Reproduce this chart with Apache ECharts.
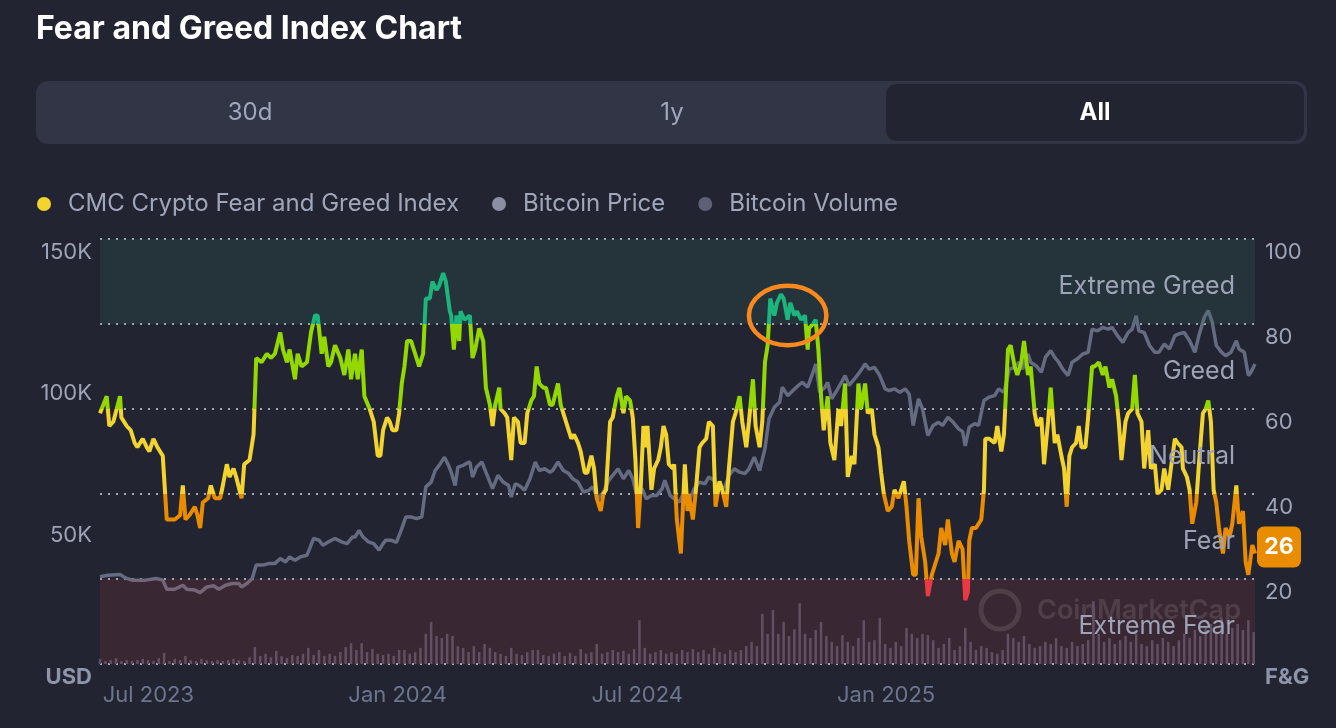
<!DOCTYPE html>
<html>
<head>
<meta charset="utf-8">
<title>Fear and Greed Index Chart</title>
<script src="https://cdn.jsdelivr.net/npm/echarts@6/dist/echarts.min.js"></script>
<style>
  html, body { margin: 0; padding: 0; background: #222531; }
  #chart { width: 1336px; height: 728px; }
</style>
</head>
<body>
<div id="chart"></div>
<script>
// Días contados desde el primer día de la serie (29 jun 2023)
const START = new Date(2023, 5, 29).getTime();
const DAY = 86400000;
const END_DAY = 865;

// CMC Crypto Fear and Greed Index (día, valor)
const fgDays = [
  0,5,7,10,15,16,20,23,26,28,32,35,37,40,43,47,50,56,60,62,64,67,71,73,75,77,81,83,86,90,92,95,97,100,102,106,108,112,115,117,121,125,128,131,135,137,140,142,146,148,151,155,158,161,163,166,168,171,173,176,180,183,186,188,191,193,196,198,202,205,208,210,212,215,
  217,219,222,224,226,228,230,233,235,239,242,244,247,249,252,254,257,259,262,263,265,267,269,270,273,277,279,281,284,287,289,292,294,296,299,300,303,305,308,310,313,315,318,320,323,325,327,329,332,334,337,339,343,345,348,350,353,355,358,360,363,365,368,370,372,375,377,379,382,384,387,389,392,394,397,399,401,403,405,407,409,410,413,415,418,420,422,424,426,429,
  430,432,435,438,440,441,444,446,449,451,454,456,459,461,464,466,469,471,474,476,479,481,484,486,489,491,494,496,498,500,502,505,507,510,512,515,517,520,522,525,528,530,531,534,536,538,540,542,545,547,550,553,555,558,560,563,565,568,570,573,575,578,580,583,585,587,590,593,595,598,600,602,604,606,609,611,613,615,618,620,623,625,628,630,633,635,638,640,643,
  646,648,650,651,653,656,660,662,663,666,670,672,675,677,680,682,685,687,690,692,695,697,700,702,705,707,710,712,715,717,720,722,724,726,728,731,733,735,738,740,743,745,748,751,753,756,758,761,763,765,768,770,773,775,777,780,782,785,787,790,792,795,797,800,802,805,807,810,811,814,816,818,821,823,826,828,830,832,834,836,838,841,843,846,848,851,853,856,858,860,863,865
];
const fgValues = [
  59,63,56,57,63,58,56,55,52,51,53,51,50,53,51,49,34,34,35,42,34,35,37,35,32,38,39,42,39,39,42,47,44,46,44,39,47,48,54,72,71,73,72,73,78,74,71,74,67,73,70,71,78,82,82,73,77,70,71,75,72,68,74,67,73,67,74,63,60,57,49,49,55,58,
  57,55,55,59,66,70,76,76,74,70,73,86,86,90,88,89,92,90,83,82,74,82,76,83,81,82,72,74,79,76,65,61,56,61,65,60,59,58,48,58,57,52,52,59,62,63,70,66,65,65,61,61,66,61,58,56,53,54,52,50,45,45,49,46,39,36,40,41,57,58,63,65,59,63,62,58,48,32,42,56,51,56,41,46,48,51,56,54,47,46,
  47,34,26,47,36,40,34,40,51,52,53,57,56,37,43,41,37,46,57,59,63,57,51,57,67,56,51,57,71,75,86,82,85,87,86,81,85,82,83,81,82,74,79,80,81,74,63,55,63,52,48,60,56,66,44,49,47,66,60,66,59,60,54,51,45,40,36,37,41,39,41,43,37,29,21,21,39,30,24,16,21,23,26,32,28,34,26,24,29,
  27,15,17,29,32,32,34,41,53,53,52,56,50,54,74,75,70,68,71,76,68,70,59,56,58,47,57,65,52,54,49,46,37,49,51,52,56,51,51,58,70,70,71,68,70,65,67,63,57,48,57,59,60,68,59,57,46,55,46,47,40,41,46,41,46,53,52,51,46,44,41,33,38,47,59,60,62,57,41,38,32,26,32,30,33,42,33,36,24,21,28,26
];

// Bitcoin Price en miles de USD (día, valor)
const priceDays = [
  0,6,15,19,24,34,42,47,50,56,62,65,71,75,80,85,89,94,99,104,106,110,114,117,122,127,131,135,139,142,146,150,155,157,160,164,167,171,176,181,185,189,191,194,197,201,205,209,212,
  214,218,222,226,229,233,237,241,244,248,251,254,258,261,263,266,268,272,274,277,279,282,286,288,292,294,298,302,306,308,311,314,318,322,326,329,333,337,339,343,347,351,354,358,362,366,369,373,377,381,384,388,392,396,399,402,406,409,413,417,421,423,427,
  430,434,438,441,445,449,453,456,460,464,468,471,475,479,483,486,490,494,498,501,505,509,511,515,519,523,526,530,534,536,539,543,545,548,551,554,558,561,565,569,573,576,580,584,588,591,595,599,603,606,609,613,616,620,624,628,631,635,639,643,
  646,648,651,655,658,662,666,670,673,677,681,685,688,691,695,697,701,705,708,712,715,718,721,725,728,732,736,740,743,747,751,755,758,762,766,770,773,776,778,782,786,790,793,797,801,805,808,812,816,820,823,827,830,833,836,840,843,847,851,853,857,860,862,865
];
const priceK = [
  30.8,31.3,31.6,30.4,29.6,29.6,30.2,29.6,26.4,26.4,27.8,26.4,26.1,25.2,27.2,27.6,26.4,27.8,28.4,28.4,27.2,28.4,30.2,34.9,34.9,35.5,35.5,37.2,36.0,37.8,36.6,37.8,38.4,40.7,44.3,43.7,41.9,43.1,44.3,43.1,42.5,44.8,44.8,47.2,44.8,43.1,42.5,40.2,42.5,
  43.7,43.7,42.9,47.8,51.9,51.9,51.3,51.9,62.5,64.2,68.3,70.1,73.0,70.1,67.7,63.0,69.5,70.1,70.7,71.3,66.0,69.5,71.3,68.9,64.2,61.9,66.6,64.2,63.0,58.9,63.6,63.0,61.3,65.4,71.3,68.3,68.9,67.7,68.3,71.3,68.3,67.2,65.4,64.2,60.7,61.3,62.5,58.3,60.7,64.8,66.6,68.9,65.4,68.3,65.4,59.5,61.9,58.3,59.5,59.5,61.9,64.8,59.5,
  58.3,57.2,61.3,57.2,61.9,64.2,63.6,66.0,64.8,61.9,62.5,66.6,68.9,67.7,67.2,68.9,73.0,68.3,76.0,86.5,90.6,92.4,97.7,94.7,96.5,98.3,99.4,97.7,103.0,105.9,95.9,97.7,99.4,93.6,95.9,98.3,101.8,98.3,100.6,103.0,105.9,104.1,104.7,101.8,97.1,96.5,97.1,95.9,97.1,95.3,84.2,93.6,90.0,80.7,84.2,85.3,84.2,87.1,85.3,83.0,
  82.0,77.0,83.6,84.8,84.2,93.0,94.2,94.7,97.1,95.9,104.1,104.7,106.5,104.1,109.4,106.5,105.3,103.0,108.2,110.6,108.2,106.5,104.1,101.8,106.5,107.7,109.4,110.0,118.2,117.6,118.8,118.2,118.8,115.9,113.5,117.0,118.2,122.9,117.6,117.0,112.4,110.0,110.0,112.9,111.2,115.9,116.5,117.0,114.1,110.0,115.9,122.3,124.7,120.6,112.4,110.0,108.8,110.0,114.1,111.2,110.0,101.8,103.0,105.9
];

// Bitcoin Volume en miles de millones de USD, una barra cada 4 días
const VOLUME_STEP = 4;
const volumeB = [
  12,7,9,14,7,9,7,9,12,9,7,14,26,7,12,9,19,9,7,12,9,7,9,7,9,12,9,7,
  16,40,19,24,16,31,19,14,21,19,24,38,21,33,19,24,19,28,40,
  49,33,49,28,35,24,21,
  24,19,33,33,24,28,38,71,99,66,61,71,66,42,38,28,42,28,47,38,28,24,19,38,24,21,28,33,33,21,19,24,28,19,26,19,35,24,28,47,24,28,33,28,31,24,35,103,38,24,28,33,24,28,
  24,33,28,35,28,33,24,38,28,24,33,28,33,42,52,42,118,71,127,71,99,66,82,143,71,61,80,99,66,52,42,68,52,42,61,103,52,56,108,47,38,52,42,85,71,61,71,68,56,38,47,61,33,42,
  85,52,33,42,38,28,24,33,71,61,52,66,47,38,42,52,47,61,42,38,52,42,47,56,148,71,52,61,47,56,66,52,71,47,42,56,47,61,52,42,56,71,61,80,66,85,94,75,108,71,85,94,80,103,75
];

// Etiquetas del eje X y zonas del índice
const xLabelDates = [[2023, 7], [2024, 1], [2024, 7], [2025, 1]];
const MONTHS = ['Jan','Feb','Mar','Apr','May','Jun','Jul','Aug','Sep','Oct','Nov','Dec'];
const zones = [
  { name: 'Extreme Fear', from: 0, to: 20, fill: 'rgba(234,57,67,0.12)' },
  { name: 'Fear', from: 20, to: 40, fill: 'rgba(0,0,0,0)' },
  { name: 'Neutral', from: 40, to: 60, fill: 'rgba(0,0,0,0)' },
  { name: 'Greed', from: 60, to: 80, fill: 'rgba(0,0,0,0)' },
  { name: 'Extreme Greed', from: 80, to: 100, fill: 'rgba(50,110,100,0.2)' }
];
// Marca a mano alrededor del pico de nov-dic 2024 (en coordenadas de datos)
const ring = { fromDay: 486, toDay: 544, low: 75, high: 89 };

const FONT = 'Inter, "Noto Sans", sans-serif';

const fgData = fgDays.map((d, i) => [d, fgValues[i]]);
const priceData = priceDays.map((d, i) => [d, priceK[i]]);
const volumeData = volumeB.map((v, i) => [i * VOLUME_STEP, v]);
const xLabelDays = xLabelDates.map(([y, m]) => Math.round((new Date(y, m - 1, 1).getTime() - START) / DAY));
const latest = fgValues[fgValues.length - 1];

const chart = echarts.init(document.getElementById('chart'));

const axisLabelBase = {
    color: '#9ea4b7',
    fontSize: 22,
    fontFamily: FONT,
    verticalAlign: 'top',
    padding: [2, 0, 0, 0]
};
const boldRich = { b: { fontWeight: 700, fontSize: 22, color: '#8e94a9', fontFamily: FONT } };

const option = {
    backgroundColor: '#222531',
    animation: false,
    textStyle: { fontFamily: FONT },
    legend: {
        left: 32,
        top: 187,
        icon: 'circle',
        itemWidth: 14,
        itemHeight: 14,
        itemGap: 33,
        selectedMode: false,
        textStyle: { color: '#a1a7bb', fontSize: 24, fontFamily: FONT, padding: [0, 0, 0, 12] },
        data: [
            { name: 'CMC Crypto Fear and Greed Index', itemStyle: { color: '#f3d42f' } },
            { name: 'Bitcoin Price', itemStyle: { color: '#8a8fa3' } },
            { name: 'Bitcoin Volume', itemStyle: { color: '#5d6173' } }
        ]
    },
    grid: { left: 100, right: 81, top: 239, bottom: 64 },
    xAxis: {
        type: 'value',
        min: 0,
        max: END_DAY,
        axisLine: { show: false },
        axisTick: { show: false },
        splitLine: { show: false },
        axisLabel: {
            customValues: xLabelDays,
            align: 'left',
            margin: 20,
            color: '#6c7590',
            fontSize: 22,
            fontFamily: FONT,
            formatter: function (value) {
                const d = new Date(START + value * DAY + DAY / 2);
                return MONTHS[d.getMonth()] + ' ' + d.getFullYear();
            }
        }
    },
    yAxis: [
        {
            type: 'value',
            position: 'left',
            min: 0, max: 150, interval: 50,
            axisLine: { show: false },
            axisTick: { show: false },
            splitLine: { show: false },
            axisLabel: Object.assign({}, axisLabelBase, {
                margin: 8,
                formatter: v => v === 0 ? '{b|USD}' : v + 'K',
                rich: boldRich
            })
        },
        {
            type: 'value',
            position: 'right',
            min: 0, max: 100, interval: 20,
            axisLine: { show: false },
            axisTick: { show: false },
            splitLine: {
                show: true,
                lineStyle: { color: 'rgba(210,215,228,0.75)', width: 2, type: [2, 6] }
            },
            axisLabel: Object.assign({}, axisLabelBase, {
                margin: 10,
                formatter: v => v === 0 ? '{b|F&G}' : String(v),
                rich: boldRich
            })
        },
        { type: 'value', min: 0, max: 1000, show: false, splitLine: { show: false } }
    ],
    visualMap: {
        type: 'piecewise',
        show: false,
        seriesIndex: 2,
        dimension: 1,
        pieces: [
            { lt: 20, color: '#ea3943' },
            { gte: 20, lt: 40, color: '#ea8c00' },
            { gte: 40, lt: 60, color: '#f3d42f' },
            { gte: 60, lt: 80, color: '#93d900' },
            { gte: 80, color: '#16c784' }
        ]
    },
    series: [
        {
            name: 'Bitcoin Volume',
            type: 'bar',
            yAxisIndex: 2,
            data: volumeData,
            barWidth: 2.5,
            itemStyle: { color: '#4f5468' },
            z: 1
        },
        {
            name: 'Bitcoin Price',
            type: 'line',
            yAxisIndex: 0,
            data: priceData,
            showSymbol: false,
            lineStyle: { color: '#656b80', width: 3.5 },
            itemStyle: { color: '#656b80' },
            z: 2
        },
        {
            name: 'CMC Crypto Fear and Greed Index',
            type: 'line',
            yAxisIndex: 1,
            data: fgData,
            showSymbol: false,
            lineStyle: { width: 4 },
            z: 3,
            markArea: {
                silent: true,
                z: 10,
                label: {
                    position: 'insideRight',
                    distance: 20,
                    offset: [0, 5],
                    color: '#9ea4b7',
                    fontSize: 25,
                    fontFamily: FONT
                },
                data: zones.map(zn => [
                    { yAxis: zn.from, name: zn.name, itemStyle: { color: zn.fill } },
                    { yAxis: zn.to }
                ])
            }
        }
    ]
};

chart.setOption(option);

// Elementos de la página (título, pestañas) y marcas dependientes de las escalas
function buildGraphics() {
    const fgPx = (d, v) => chart.convertToPixel({ xAxisIndex: 0, yAxisIndex: 1 }, [d, v]);
    const a = fgPx(ring.fromDay, ring.high);
    const b = fgPx(ring.toDay, ring.low);
    const last = fgPx(END_DAY, latest);

    return [
        {
            type: 'text', x: 36, y: 29,
            style: { text: 'Fear and Greed Index Chart', fill: '#ffffff', font: '700 32px ' + FONT, verticalAlign: 'middle' }
        },
        {
            type: 'rect', shape: { x: 36, y: 81, width: 1271, height: 63, r: 12 },
            style: { fill: '#323546' }
        },
        {
            type: 'rect', shape: { x: 886, y: 84, width: 418, height: 57, r: 10 },
            style: { fill: '#222531' }
        },
        {
            type: 'text', x: 250, y: 113,
            style: { text: '30d', fill: '#a1a7bb', font: '400 24px ' + FONT, align: 'center', verticalAlign: 'middle' }
        },
        {
            type: 'text', x: 672, y: 113,
            style: { text: '1y', fill: '#a1a7bb', font: '400 24px ' + FONT, align: 'center', verticalAlign: 'middle' }
        },
        {
            type: 'text', x: 1095, y: 113,
            style: { text: 'All', fill: '#ffffff', font: '700 24px ' + FONT, align: 'center', verticalAlign: 'middle' }
        },
        // marca de agua
        {
            type: 'circle', shape: { cx: 1000, cy: 610, r: 19 }, z: 0,
            style: { fill: 'none', stroke: 'rgba(255,255,255,0.12)', lineWidth: 5 }
        },
        {
            type: 'text', x: 1037, y: 611, z: 0,
            style: { text: 'CoinMarketCap', fill: 'rgba(255,255,255,0.12)', font: '600 27px ' + FONT, verticalAlign: 'middle' }
        },
        // círculo naranja
        {
            type: 'ellipse', z: 20,
            shape: { cx: (a[0] + b[0]) / 2, cy: (a[1] + b[1]) / 2, rx: (b[0] - a[0]) / 2, ry: (b[1] - a[1]) / 2 },
            style: { fill: 'none', stroke: '#f7891f', lineWidth: 4.5 }
        },
        // último valor
        {
            type: 'rect', z: 20,
            shape: { x: last[0] + 2, y: last[1] - 27, width: 44, height: 41, r: 7 },
            style: { fill: '#ea8c00' }
        },
        {
            type: 'text', z: 21, x: last[0] + 24, y: last[1] - 6,
            style: { text: String(latest), fill: '#ffffff', font: '700 23px ' + FONT, align: 'center', verticalAlign: 'middle' }
        }
    ];
}

chart.setOption({ graphic: buildGraphics() });

window.addEventListener('resize', function () {
    chart.resize();
    chart.setOption({ graphic: buildGraphics() });
});
</script>
</body>
</html>
